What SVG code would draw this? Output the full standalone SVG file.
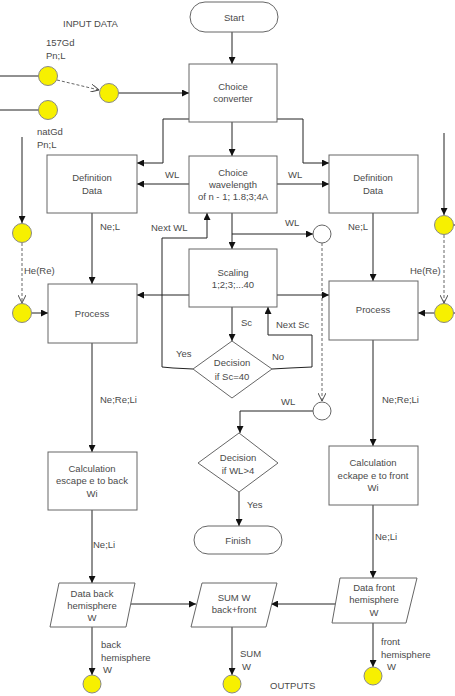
<svg xmlns="http://www.w3.org/2000/svg" width="455" height="696" viewBox="0 0 455 696">
<defs>
<marker id="ah" viewBox="0 0 10 10" refX="10" refY="5" markerWidth="7" markerHeight="7" orient="auto" markerUnits="userSpaceOnUse"><path d="M0,0 L10,5 L0,10 z" fill="#111"/></marker>
<marker id="av" viewBox="0 0 10 10" refX="10" refY="5" markerWidth="8" markerHeight="8" orient="auto" markerUnits="userSpaceOnUse"><path d="M0,0 L10,5 L0,10" fill="none" stroke="#444" stroke-width="1.2"/></marker>
</defs>
<style>
.b{fill:#fff;stroke:#666;stroke-width:1}
.c{fill:#f7f000;stroke:#888;stroke-width:1}
.o{fill:#fff;stroke:#666;stroke-width:1}
.t{font-family:"Liberation Sans",Arial,sans-serif;font-size:9.5px;fill:#4a4a4a}
.m{text-anchor:middle}
.l{fill:none;stroke:#222;stroke-width:1}
.a{fill:none;stroke:#222;stroke-width:1;marker-end:url(#ah)}
.d{fill:none;stroke:#666;stroke-width:1;stroke-dasharray:3,2;marker-end:url(#av)}
</style>
<rect width="455" height="696" fill="#fff"/>
<g id="connectors">
<path class="a" d="M232,32 V64"/>
<path class="a" d="M232,122 V156"/>
<path class="a" d="M189,119 H163 V163 H137"/>
<path class="a" d="M277,119 H303 V163 H329"/>
<path class="a" d="M189,184 H137"/>
<path class="a" d="M277,184 H329"/>
<path class="a" d="M232,213 V249"/>
<path class="a" d="M232,234 H313"/>
<path class="d" d="M322,243 V401"/>
<path class="a" d="M313,411 H240 V433"/>
<path class="a" d="M189,295 H137"/>
<path class="a" d="M277,295 H329"/>
<path class="a" d="M232,307 V341"/>
<path class="a" d="M193,369 L173,368 L162,367 V238 H207 V213"/>
<path class="a" d="M272,369 L290,368 L312,367 V335 H268 V307"/>
<path class="a" d="M239,492 V526"/>
<path class="a" d="M92,213 V284"/>
<path class="a" d="M373,213 V281"/>
<path class="a" d="M92,343 V452"/>
<path class="a" d="M373,340 V446"/>
<path class="a" d="M92,510 V583"/>
<path class="a" d="M373,505 V578"/>
<path class="a" d="M131,604 H196"/>
<path class="a" d="M336,604 H271"/>
<path class="a" d="M92,627 V675"/>
<path class="a" d="M373,623 V667"/>
<path class="a" d="M232,627 V675"/>
<path class="l" d="M0,76 H39"/>
<path class="l" d="M0,110 H39"/>
<path class="d" d="M57,80 L99,90"/>
<path class="a" d="M118,93 H189"/>
<path class="a" d="M22,137 V223"/>
<path class="d" d="M22,243 V303"/>
<path class="a" d="M32,313 H48"/>
<path class="a" d="M444,133 V215"/>
<path class="d" d="M444,235 V303"/>
<path class="a" d="M434,313 H418"/>
<path class="l" d="M453,225 H455"/>
<path class="l" d="M453,313 H455"/>
</g>
<g id="start"><rect class="b" x="190" y="2" width="88" height="30" rx="15"/><text class="t m" x="234" y="21">Start</text></g>
<g id="choice-converter"><rect class="b" x="189" y="64" width="88" height="58"/><text class="t m" x="233" y="90">Choice</text><text class="t m" x="233" y="102">converter</text></g>
<g id="choice-wavelength"><rect class="b" x="189" y="156" width="88" height="57"/><text class="t m" x="233" y="176">Choice</text><text class="t m" x="233" y="188">wavelength</text><text class="t m" x="233" y="200">of n - 1; 1.8;3;4A</text></g>
<g id="def-left"><rect class="b" x="47" y="155" width="90" height="58"/><text class="t m" x="92" y="181">Definition</text><text class="t m" x="92" y="194">Data</text></g>
<g id="def-right"><rect class="b" x="329" y="155" width="89" height="58"/><text class="t m" x="373" y="181">Definition</text><text class="t m" x="373" y="194">Data</text></g>
<g id="scaling"><rect class="b" x="189" y="249" width="88" height="58"/><text class="t m" x="233" y="276">Scaling</text><text class="t m" x="233" y="288">1;2;3;...40</text></g>
<g id="decision-sc"><path class="b" d="M232,341 L272,369 L232,398 L193,369 Z"/><text class="t m" x="232" y="366">Decision</text><text class="t m" x="232" y="380">if Sc=40</text></g>
<g id="decision-wl"><path class="b" d="M239,433 L278,463 L239,492 L198,463 Z"/><text class="t m" x="238" y="461">Decision</text><text class="t m" x="238" y="474">if WL&gt;4</text></g>
<g id="finish"><rect class="b" x="194" y="526" width="88" height="28" rx="14"/><text class="t m" x="238" y="544">Finish</text></g>
<g id="process-left"><rect class="b" x="48" y="284" width="89" height="59"/><text class="t m" x="92" y="317">Process</text></g>
<g id="process-right"><rect class="b" x="329" y="281" width="89" height="59"/><text class="t m" x="373" y="313">Process</text></g>
<g id="calc-left"><rect class="b" x="48" y="452" width="89" height="58"/><text class="t m" x="92" y="472">Calculation</text><text class="t m" x="92" y="484">escape e to back</text><text class="t m" x="92" y="497">Wi</text></g>
<g id="calc-right"><rect class="b" x="329" y="446" width="89" height="59"/><text class="t m" x="373" y="466">Calculation</text><text class="t m" x="373" y="479">eckape e to front</text><text class="t m" x="373" y="491">Wi</text></g>
<g id="data-back"><path class="b" d="M59,583 H135 L126,627 H50 Z"/><text class="t m" x="92" y="597">Data back</text><text class="t m" x="92" y="609">hemisphere</text><text class="t m" x="92" y="621">W</text></g>
<g id="sum"><path class="b" d="M202,583 H277 L266,627 H191 Z"/><text class="t m" x="234" y="601">SUM W</text><text class="t m" x="234" y="613">back+front</text></g>
<g id="data-front"><path class="b" d="M340,578 H417 L406,623 H332 Z"/><text class="t m" x="374" y="591">Data front</text><text class="t m" x="374" y="603">hemisphere</text><text class="t m" x="374" y="616">W</text></g>
<g id="in-157gd"><circle class="c" cx="48" cy="76" r="9.5"/></g>
<g id="in-merge"><circle class="c" cx="109" cy="93" r="9.5"/></g>
<g id="in-natgd"><circle class="c" cx="48" cy="110" r="9.5"/></g>
<g id="left-he-top"><circle class="c" cx="22" cy="233" r="9.5"/></g>
<g id="left-he-bottom"><circle class="c" cx="22" cy="313" r="9.5"/></g>
<g id="right-he-top"><circle class="c" cx="444" cy="225" r="9.5"/></g>
<g id="right-he-bottom"><circle class="c" cx="444" cy="313" r="9.5"/></g>
<g id="wl-conn-top"><circle class="o" cx="322" cy="234" r="9"/></g>
<g id="wl-conn-bottom"><circle class="o" cx="322" cy="411" r="9"/></g>
<g id="out-back"><circle class="c" cx="92" cy="684" r="9"/></g>
<g id="out-sum"><circle class="c" cx="232" cy="684" r="9"/></g>
<g id="out-front"><circle class="c" cx="373" cy="676" r="9"/></g>
<g id="labels">
<text class="t" x="63" y="27">INPUT DATA</text>
<text class="t" x="46" y="46">157Gd</text>
<text class="t" x="46" y="59">Pn;L</text>
<text class="t" x="37" y="135">natGd</text>
<text class="t" x="37" y="148">Pn;L</text>
<text class="t" x="165" y="178">WL</text>
<text class="t" x="288" y="178">WL</text>
<text class="t" x="285" y="226">WL</text>
<text class="t" x="151" y="231">Next WL</text>
<text class="t" x="100" y="230">Ne;L</text>
<text class="t" x="348" y="230">Ne;L</text>
<text class="t" x="24" y="274">He(Re)</text>
<text class="t" x="410" y="274">He(Re)</text>
<text class="t" x="241" y="326">Sc</text>
<text class="t" x="276" y="328">Next Sc</text>
<text class="t" x="176" y="357">Yes</text>
<text class="t" x="272" y="360">No</text>
<text class="t" x="281" y="405">WL</text>
<text class="t" x="100" y="403">Ne;Re;Li</text>
<text class="t" x="382" y="403">Ne;Re;Li</text>
<text class="t" x="247" y="508">Yes</text>
<text class="t" x="93" y="548">Ne;Li</text>
<text class="t" x="375" y="540">Ne;Li</text>
<text class="t" x="101" y="648">back</text>
<text class="t" x="101" y="661">hemisphere</text>
<text class="t" x="103" y="673">W</text>
<text class="t" x="381" y="645">front</text>
<text class="t" x="381" y="658">hemisphere</text>
<text class="t" x="387" y="670">W</text>
<text class="t" x="240" y="657">SUM</text>
<text class="t" x="242" y="670">W</text>
<text class="t" x="270" y="689">OUTPUTS</text>
</g>
</svg>
